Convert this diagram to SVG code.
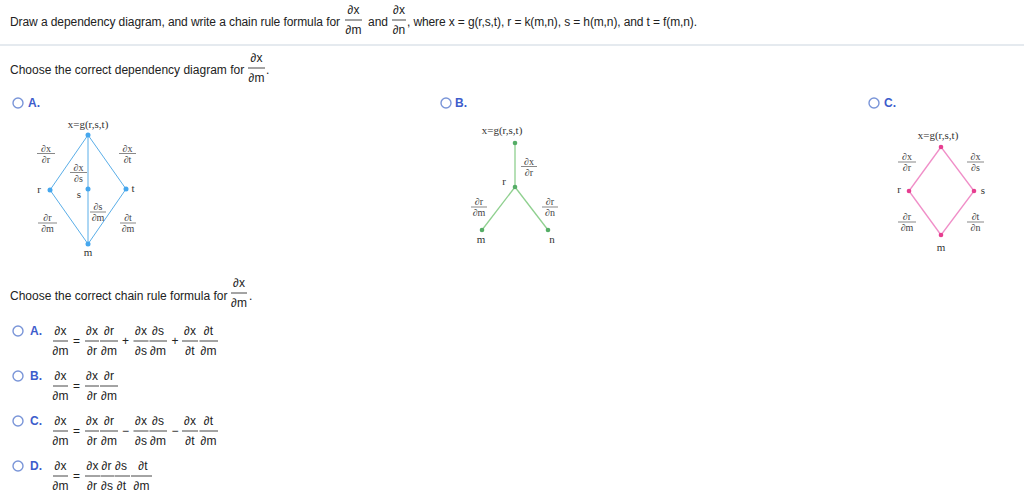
<svg xmlns="http://www.w3.org/2000/svg" width="1024" height="504" viewBox="0 0 1024 504">
<style>
.t{font-family:"Liberation Sans",Arial,sans-serif;font-size:12px;fill:#222}
.f{font-family:"Liberation Sans",Arial,sans-serif;font-size:12px;fill:#222;text-anchor:middle}
.lbl{font-family:"Liberation Sans",Arial,sans-serif;font-size:12px;font-weight:bold;fill:#3d5ccc}
.d{font-family:"Liberation Serif","Times New Roman",serif;font-size:11px;fill:#333;text-anchor:middle}
.df{font-family:"Liberation Serif","Times New Roman",serif;font-size:10px;fill:#444;text-anchor:middle}
.fl{stroke:#333;stroke-width:0.9}
.dl{stroke:#555;stroke-width:0.7}
.radio{fill:#fff;stroke:#7a95d8;stroke-width:1.4}
.ea{stroke:#5aaee8;stroke-width:1;fill:none}
.eb{stroke:#8fd08f;stroke-width:1.3;fill:none}
.ec{stroke:#f08ec8;stroke-width:1.3;fill:none}
.na{fill:#45a7ee}
.nb{fill:#55ad66}
.nc{fill:#e63e90}
</style>

<!-- Header -->
<g id="header">
<text class="t" x="10" y="26" font-size="11.5" textLength="330">Draw a dependency diagram, and write a chain rule formula for</text>
<text class="f" x="353.5" y="14">∂x</text>
<line class="fl" x1="345" y1="20" x2="362" y2="20"/>
<text class="f" x="353.5" y="34">∂m</text>
<text class="t" x="368" y="26" font-size="11.5">and</text>
<text class="f" x="399" y="14">∂x</text>
<line class="fl" x1="392" y1="20" x2="406" y2="20"/>
<text class="f" x="399" y="34">∂n</text>
<text class="t" x="407" y="26" font-size="11.5" textLength="290">, where x = g(r,s,t), r = k(m,n), s = h(m,n), and t = f(m,n).</text>
<line x1="0" y1="45" x2="1024" y2="45" stroke="#dde3ea" stroke-width="1.5"/>
</g>

<g id="q1">
<text class="t" x="10" y="74">Choose the correct dependency diagram for</text>
<text class="f" x="256.5" y="62">∂x</text>
<line class="fl" x1="248" y1="68" x2="265" y2="68"/>
<text class="f" x="256.5" y="82">∂m</text>
<text class="t" x="266" y="74">.</text>
</g>

<!-- Diagram choice A -->
<g id="choiceA">
<circle class="radio" cx="18" cy="103" r="5"/>
<text class="lbl" x="28" y="107">A.</text>
</g>
<g id="diagA-edges">
<line class="ea" x1="88" y1="135" x2="50" y2="190"/>
<line class="ea" x1="88" y1="135" x2="126" y2="189"/>
<line class="ea" x1="88" y1="135" x2="88" y2="244"/>
<line class="ea" x1="50" y1="190" x2="88" y2="244"/>
<line class="ea" x1="126" y1="189" x2="88" y2="244"/>
</g>
<g id="diagA-x"><circle class="na" cx="88" cy="135" r="2.5"/><text class="d" x="88" y="128">x=g(r,s,t)</text></g>
<g id="diagA-r"><circle class="na" cx="50" cy="190" r="2.5"/><text class="d" x="39" y="193">r</text></g>
<g id="diagA-s"><circle class="na" cx="88" cy="189" r="2.5"/><text class="d" x="79" y="198">s</text></g>
<g id="diagA-t"><circle class="na" cx="126" cy="189" r="2.5"/><text class="d" x="133" y="192">t</text></g>
<g id="diagA-m"><circle class="na" cx="88" cy="244" r="2.5"/><text class="d" x="88" y="256">m</text></g>
<g id="diagA-labels">
<text class="df" x="46" y="151.5">∂x</text><line class="dl" x1="37" y1="153.5" x2="55" y2="153.5"/><text class="df" x="46" y="162.5">∂r</text>
<text class="df" x="78.5" y="170.5">∂x</text><line class="dl" x1="70" y1="172.5" x2="87" y2="172.5"/><text class="df" x="78.5" y="181.5">∂s</text>
<text class="df" x="127.5" y="151.5">∂x</text><line class="dl" x1="119" y1="153.5" x2="136" y2="153.5"/><text class="df" x="127.5" y="162.5">∂t</text>
<text class="df" x="98" y="210">∂s</text><line class="dl" x1="90" y1="212" x2="106" y2="212"/><text class="df" x="98" y="221">∂m</text>
<text class="df" x="47.5" y="221">∂r</text><line class="dl" x1="38" y1="223" x2="57" y2="223"/><text class="df" x="47.5" y="232">∂m</text>
<text class="df" x="128" y="221">∂t</text><line class="dl" x1="120" y1="223" x2="136" y2="223"/><text class="df" x="128" y="232">∂m</text>
</g>

<!-- Diagram choice B -->
<g id="choiceB">
<circle class="radio" cx="446" cy="103" r="5"/>
<text class="lbl" x="455" y="107">B.</text>
</g>
<g id="diagB-edges">
<line class="eb" x1="515" y1="143" x2="515" y2="187"/>
<line class="eb" x1="515" y1="187" x2="482" y2="230"/>
<line class="eb" x1="515" y1="187" x2="548" y2="230"/>
</g>
<g id="diagB-x"><circle class="nb" cx="515" cy="143" r="2.3"/><text class="d" x="502" y="134">x=g(r,s,t)</text></g>
<g id="diagB-r"><circle class="nb" cx="515" cy="187" r="2.3"/><text class="d" x="504" y="185">r</text></g>
<g id="diagB-m"><circle class="nb" cx="482" cy="230" r="2.3"/><text class="d" x="481" y="243">m</text></g>
<g id="diagB-n"><circle class="nb" cx="548" cy="230" r="2.3"/><text class="d" x="552" y="243">n</text></g>
<g id="diagB-labels">
<text class="df" x="529" y="164.5">∂x</text><line class="dl" x1="521" y1="166.5" x2="537" y2="166.5"/><text class="df" x="529" y="175.5">∂r</text>
<text class="df" x="479" y="205">∂r</text><line class="dl" x1="471" y1="207" x2="487" y2="207"/><text class="df" x="479" y="216">∂m</text>
<text class="df" x="550" y="205">∂r</text><line class="dl" x1="542" y1="207" x2="558" y2="207"/><text class="df" x="550" y="216">∂n</text>
</g>

<!-- Diagram choice C -->
<g id="choiceC">
<circle class="radio" cx="874" cy="103" r="5"/>
<text class="lbl" x="884" y="107">C.</text>
</g>
<g id="diagC-edges">
<line class="ec" x1="941" y1="147" x2="909" y2="191"/>
<line class="ec" x1="941" y1="147" x2="974" y2="191"/>
<line class="ec" x1="909" y1="191" x2="941" y2="235"/>
<line class="ec" x1="974" y1="191" x2="941" y2="235"/>
</g>
<g id="diagC-x"><circle class="nc" cx="941" cy="147" r="2.3"/><text class="d" x="938" y="139">x=g(r,s,t)</text></g>
<g id="diagC-r"><circle class="nc" cx="909" cy="191" r="2.3"/><text class="d" x="899" y="193">r</text></g>
<g id="diagC-s"><circle class="nc" cx="974" cy="191" r="2.3"/><text class="d" x="983" y="194">s</text></g>
<g id="diagC-m"><circle class="nc" cx="941" cy="235" r="2.3"/><text class="d" x="941" y="251">m</text></g>
<g id="diagC-labels">
<text class="df" x="907" y="160">∂x</text><line class="dl" x1="898" y1="162" x2="916" y2="162"/><text class="df" x="907" y="171">∂r</text>
<text class="df" x="975.5" y="160">∂x</text><line class="dl" x1="967" y1="162" x2="984" y2="162"/><text class="df" x="975.5" y="171">∂s</text>
<text class="df" x="907" y="220">∂r</text><line class="dl" x1="898" y1="222" x2="916" y2="222"/><text class="df" x="907" y="231">∂m</text>
<text class="df" x="975.5" y="220">∂t</text><line class="dl" x1="967" y1="222" x2="984" y2="222"/><text class="df" x="975.5" y="231">∂n</text>
</g>

<!-- Chain rule question -->
<g id="q2">
<text class="t" x="10" y="300">Choose the correct chain rule formula for</text>
<text class="f" x="239" y="287">∂x</text>
<line class="fl" x1="231" y1="293" x2="247" y2="293"/>
<text class="f" x="239" y="307">∂m</text>
<text class="t" x="249" y="300">.</text>
</g>

<!-- Option A -->
<g id="optA">
<circle class="radio" cx="18" cy="331" r="5"/>
<text class="lbl" x="30" y="335">A.</text>
<text class="f" x="60.5" y="335">∂x</text><line class="fl" x1="53" y1="341" x2="68" y2="341"/><text class="f" x="60.5" y="355">∂m</text>
<text class="f" x="76.5" y="345">=</text>
<text class="f" x="92" y="335">∂x</text><line class="fl" x1="85" y1="341" x2="99" y2="341"/><text class="f" x="92" y="355">∂r</text>
<text class="f" x="109" y="335">∂r</text><line class="fl" x1="100" y1="341" x2="118" y2="341"/><text class="f" x="109" y="355">∂m</text>
<text class="f" x="125.5" y="345">+</text>
<text class="f" x="141" y="335">∂x</text><line class="fl" x1="133.5" y1="341" x2="148.5" y2="341"/><text class="f" x="141" y="355">∂s</text>
<text class="f" x="158" y="335">∂s</text><line class="fl" x1="149.5" y1="341" x2="167" y2="341"/><text class="f" x="158" y="355">∂m</text>
<text class="f" x="175" y="345">+</text>
<text class="f" x="190" y="335">∂x</text><line class="fl" x1="182" y1="341" x2="198" y2="341"/><text class="f" x="190" y="355">∂t</text>
<text class="f" x="208.5" y="335">∂t</text><line class="fl" x1="199.5" y1="341" x2="218" y2="341"/><text class="f" x="208.5" y="355">∂m</text>
</g>

<!-- Option B -->
<g id="optB">
<circle class="radio" cx="18" cy="376" r="5"/>
<text class="lbl" x="30" y="380">B.</text>
<text class="f" x="60.5" y="380">∂x</text><line class="fl" x1="53" y1="386" x2="68" y2="386"/><text class="f" x="60.5" y="400">∂m</text>
<text class="f" x="76.5" y="390">=</text>
<text class="f" x="92" y="380">∂x</text><line class="fl" x1="85" y1="386" x2="99" y2="386"/><text class="f" x="92" y="400">∂r</text>
<text class="f" x="109" y="380">∂r</text><line class="fl" x1="100" y1="386" x2="118" y2="386"/><text class="f" x="109" y="400">∂m</text>
</g>

<!-- Option C -->
<g id="optC">
<circle class="radio" cx="18" cy="421" r="5"/>
<text class="lbl" x="30" y="425">C.</text>
<text class="f" x="60.5" y="425">∂x</text><line class="fl" x1="53" y1="431" x2="68" y2="431"/><text class="f" x="60.5" y="445">∂m</text>
<text class="f" x="76.5" y="435">=</text>
<text class="f" x="92" y="425">∂x</text><line class="fl" x1="85" y1="431" x2="99" y2="431"/><text class="f" x="92" y="445">∂r</text>
<text class="f" x="109" y="425">∂r</text><line class="fl" x1="100" y1="431" x2="118" y2="431"/><text class="f" x="109" y="445">∂m</text>
<text class="f" x="125.5" y="435">−</text>
<text class="f" x="141" y="425">∂x</text><line class="fl" x1="133.5" y1="431" x2="148.5" y2="431"/><text class="f" x="141" y="445">∂s</text>
<text class="f" x="158" y="425">∂s</text><line class="fl" x1="149.5" y1="431" x2="167" y2="431"/><text class="f" x="158" y="445">∂m</text>
<text class="f" x="175" y="435">−</text>
<text class="f" x="190" y="425">∂x</text><line class="fl" x1="182" y1="431" x2="198" y2="431"/><text class="f" x="190" y="445">∂t</text>
<text class="f" x="208.5" y="425">∂t</text><line class="fl" x1="199.5" y1="431" x2="218" y2="431"/><text class="f" x="208.5" y="445">∂m</text>
</g>

<!-- Option D -->
<g id="optD">
<circle class="radio" cx="18" cy="466" r="5"/>
<text class="lbl" x="30" y="470">D.</text>
<text class="f" x="60.5" y="470">∂x</text><line class="fl" x1="53" y1="476" x2="68" y2="476"/><text class="f" x="60.5" y="490">∂m</text>
<text class="f" x="76.5" y="480">=</text>
<text class="f" x="92.5" y="470">∂x</text><line class="fl" x1="85" y1="476" x2="100" y2="476"/><text class="f" x="92" y="490">∂r</text>
<text class="f" x="106.5" y="470">∂r</text><line class="fl" x1="100.5" y1="476" x2="114" y2="476"/><text class="f" x="107" y="490">∂s</text>
<text class="f" x="121" y="470">∂s</text><line class="fl" x1="114.5" y1="476" x2="130" y2="476"/><text class="f" x="121.5" y="490">∂t</text>
<text class="f" x="143" y="470">∂t</text><line class="fl" x1="131" y1="476" x2="152" y2="476"/><text class="f" x="141.5" y="490">∂m</text>
</g>
</svg>
